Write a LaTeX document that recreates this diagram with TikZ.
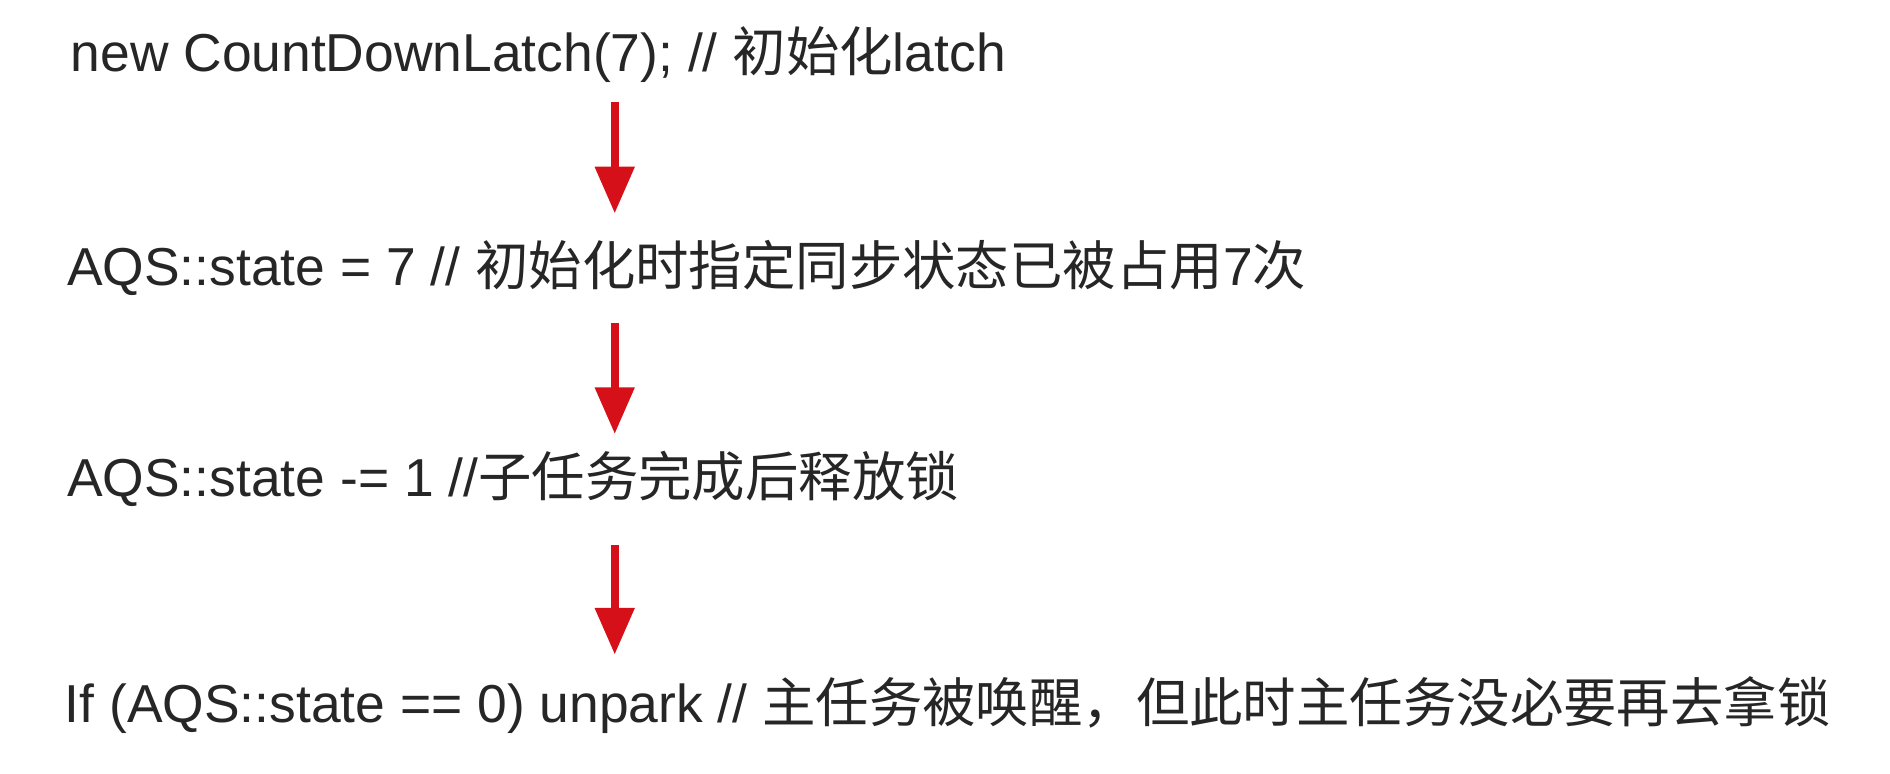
\documentclass[tikz,border=0pt]{standalone}
\usepackage{fontspec}
\setmainfont{Liberation Sans}
\newfontfamily\cjk{Noto Sans CJK SC}
\usetikzlibrary{arrows.meta}
\begin{document}
\begin{tikzpicture}[x=0.01cm,y=-0.01cm,
  lbl/.style={anchor=west,inner sep=0pt,font=\fontsize{12.6pt}{14pt}\selectfont,text=black!85},
  arr/.style={draw={rgb,255:red,214;green,16;blue,24},line width=1.8pt,-{Triangle[width=9pt,length=11pt]}}]
\useasboundingbox (0,0) rectangle (1568,642);
\node[lbl] (a) at (58,45) {new CountDownLatch(7); // {\cjk 初始化}latch};
\node[lbl] (b) at (55,222) {AQS::state = 7 // {\cjk 初始化时指定同步状态已被占用}7{\cjk 次}};
\node[lbl] (c) at (55,397) {AQS::state -= 1 //{\cjk 子任务完成后释放锁}};
\node[lbl] (d) at (53,585) {If (AQS::state == 0) unpark // {\cjk 主任务被唤醒，但此时主任务没必要再去拿锁}};
\coordinate (a1) at (510,85); \coordinate (a2) at (510,177);
\coordinate (b1) at (510,268); \coordinate (b2) at (510,360);
\coordinate (c1) at (510,452); \coordinate (c2) at (510,543);
\draw[arr] (a1) -- (a2);
\draw[arr] (b1) -- (b2);
\draw[arr] (c1) -- (c2);
\end{tikzpicture}
\end{document}
